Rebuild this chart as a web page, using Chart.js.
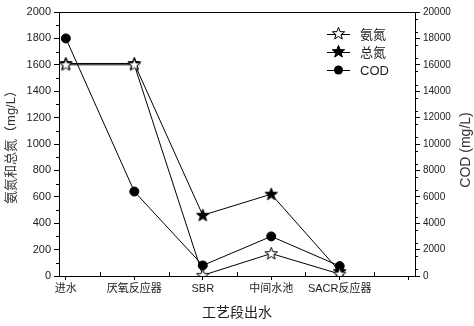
<!DOCTYPE html>
<html>
<head>
<meta charset="utf-8">
<script src="https://cdn.jsdelivr.net/npm/chart.js@4"></script>
<style>
  html, body { margin: 0; padding: 0; background: #fff; }
  #wrap { width: 474px; height: 326px; }
</style>
</head>
<body>
<div id="wrap"><canvas id="chart" width="474" height="326"></canvas></div>
<script>
// data
const stages = ["进水", "厌氧反应器", "SBR", "中间水池", "SACR反应器"];
const ammonia = [1600, 1600, 5, 170, 15];
const totalN = [1610, 1610, 460, 620, 35];
const cod = [18000, 6400, 800, 3000, 750];

const leftTicks = [0, 200, 400, 600, 800, 1000, 1200, 1400, 1600, 1800, 2000];
const rightTicks = [0, 1000, 2000, 3000, 4000, 5000, 6000, 7000, 8000, 9000, 10000,
    11000, 12000, 13000, 14000, 15000, 16000, 17000, 18000, 19000, 20000];

const latin = "'Liberation Sans', Arial, sans-serif";
const cjk = "'Liberation Sans', 'Noto Sans CJK SC', sans-serif";

function star(filled) {
    const c = document.createElement("canvas");
    c.width = c.height = 15;
    const g = c.getContext("2d");
    g.beginPath();
    for (let i = 0; i < 10; i++) {
        const r = i % 2 === 0 ? 6.5 : 2.7;
        const a = -Math.PI / 2 + i * Math.PI / 5;
        const px = 7.5 + r * Math.cos(a), py = 7.8 + r * Math.sin(a);
        if (i === 0) g.moveTo(px, py); else g.lineTo(px, py);
    }
    g.closePath();
    g.fillStyle = filled ? "#000" : "#fff";
    g.fill();
    g.lineWidth = 1;
    g.strokeStyle = "#000";
    g.stroke();
    return c;
}
const openStar = star(false);
const fullStar = star(true);

function pts(arr) {
    return arr.map((v, i) => ({ x: i + 1, y: v }));
}

// frame, minor ticks, right title, legend
const extras = {
    id: "extras",
    afterDraw(chart) {
        const ctx = chart.ctx;
        const a = chart.chartArea;
        const x = chart.scales.x, y = chart.scales.y, y2 = chart.scales.y2;
        ctx.save();
        ctx.strokeStyle = "#000";
        ctx.lineWidth = 1;
        ctx.strokeRect(Math.round(a.left) + 0.5, Math.round(a.top) + 0.5,
            Math.round(a.right - a.left), Math.round(a.bottom - a.top));
        ctx.beginPath();
        for (let v = 100; v < 2000; v += 200) {
            const p = Math.round(y.getPixelForValue(v)) + 0.5;
            ctx.moveTo(a.left - 3, p); ctx.lineTo(a.left, p);
        }
        for (let v = 500; v < 20000; v += 1000) {
            const p = Math.round(y2.getPixelForValue(v)) + 0.5;
            ctx.moveTo(a.right, p); ctx.lineTo(a.right + 3, p);
        }
        for (let v = 1.5; v < 6; v += 1) {
            const p = Math.round(x.getPixelForValue(v)) + 0.5;
            ctx.moveTo(p, a.bottom); ctx.lineTo(p, a.bottom - 4);
        }
        ctx.stroke();

        // right axis title, reading bottom to top
        ctx.save();
        ctx.translate(466, (a.top + a.bottom) / 2 + 6);
        ctx.rotate(-Math.PI / 2);
        ctx.font = "14px " + latin;
        ctx.fillStyle = "#333";
        ctx.textAlign = "center";
        ctx.textBaseline = "middle";
        ctx.fillText("COD (mg/L)", 0, 0);
        ctx.restore();

        // legend
        const items = [
            { label: "氨氮", img: openStar },
            { label: "总氮", img: fullStar },
            { label: "COD", img: null }
        ];
        const lx = a.right - 88, ly = a.top + 22;
        ctx.font = "13px " + cjk;
        ctx.fillStyle = "#222";
        ctx.textBaseline = "middle";
        items.forEach((it, i) => {
            const yy = ly + i * 18;
            ctx.beginPath();
            ctx.moveTo(lx, yy + 0.5); ctx.lineTo(lx + 23, yy + 0.5);
            ctx.stroke();
            if (it.img) {
                ctx.drawImage(it.img, lx + 4, yy - 8);
            } else {
                ctx.beginPath();
                ctx.arc(lx + 11.5, yy, 4.5, 0, Math.PI * 2);
                ctx.fillStyle = "#000";
                ctx.fill();
                ctx.fillStyle = "#222";
            }
            ctx.fillText(it.label, lx + 33, yy + 1);
        });
        ctx.restore();
    }
};

new Chart("chart", {
    type: "line",
    data: {
        datasets: [
            { label: "氨氮", data: pts(ammonia), yAxisID: "y", borderColor: "#000", borderWidth: 1,
              pointStyle: openStar, pointRadius: 7, tension: 0 },
            { label: "总氮", data: pts(totalN), yAxisID: "y", borderColor: "#000", borderWidth: 1,
              pointStyle: fullStar, pointRadius: 7, tension: 0 },
            { label: "COD", data: pts(cod), yAxisID: "y2", borderColor: "#000", borderWidth: 1,
              pointStyle: "circle", pointRadius: 4.5, pointBackgroundColor: "#000",
              pointBorderColor: "#000", tension: 0 }
        ]
    },
    options: {
        responsive: false,
        animation: false,
        layout: { padding: { top: 12, right: 0, left: 0, bottom: 0 } },
        plugins: { legend: { display: false }, tooltip: { enabled: false } },
        scales: {
            x: {
                type: "linear",
                min: 0.9,
                max: 6.1,
                afterBuildTicks: s => { s.ticks = [1, 2, 3, 4, 5, 6].map(v => ({ value: v })); },
                afterFit: s => { s.height = 50; },
                grid: { drawOnChartArea: false, color: "#000", tickLength: 4 },
                border: { color: "#000" },
                ticks: {
                    color: "#222", font: { size: 11, family: cjk }, padding: 2, maxRotation: 0,
                    callback: v => stages[v - 1] || ""
                },
                title: { display: true, text: "工艺段出水", color: "#222",
                    font: { size: 14, family: cjk }, padding: { top: 4 } }
            },
            y: {
                position: "left",
                min: 0,
                max: 2000,
                afterBuildTicks: s => { s.ticks = leftTicks.map(v => ({ value: v })); },
                afterFit: s => { s.width = 59; },
                grid: { drawOnChartArea: false, color: "#000", tickLength: 5 },
                border: { color: "#000" },
                ticks: { color: "#222", font: { size: 11, family: latin }, padding: 3,
                    callback: v => String(v) },
                title: { display: true, text: "氨氮和总氮（mg/L）", color: "#333",
                    font: { size: 13, family: cjk }, padding: { bottom: 0 } }
            },
            y2: {
                position: "right",
                min: 0,
                max: 20000,
                afterBuildTicks: s => { s.ticks = rightTicks.map(v => ({ value: v })); },
                afterFit: s => { s.width = 59; },
                grid: { drawOnChartArea: false, color: "#000", tickLength: 5 },
                border: { color: "#000" },
                ticks: { color: "#222", font: { size: 10, family: latin }, padding: 3,
                    callback: v => String(v) }
            }
        }
    },
    plugins: [extras]
});
</script>
</body>
</html>
